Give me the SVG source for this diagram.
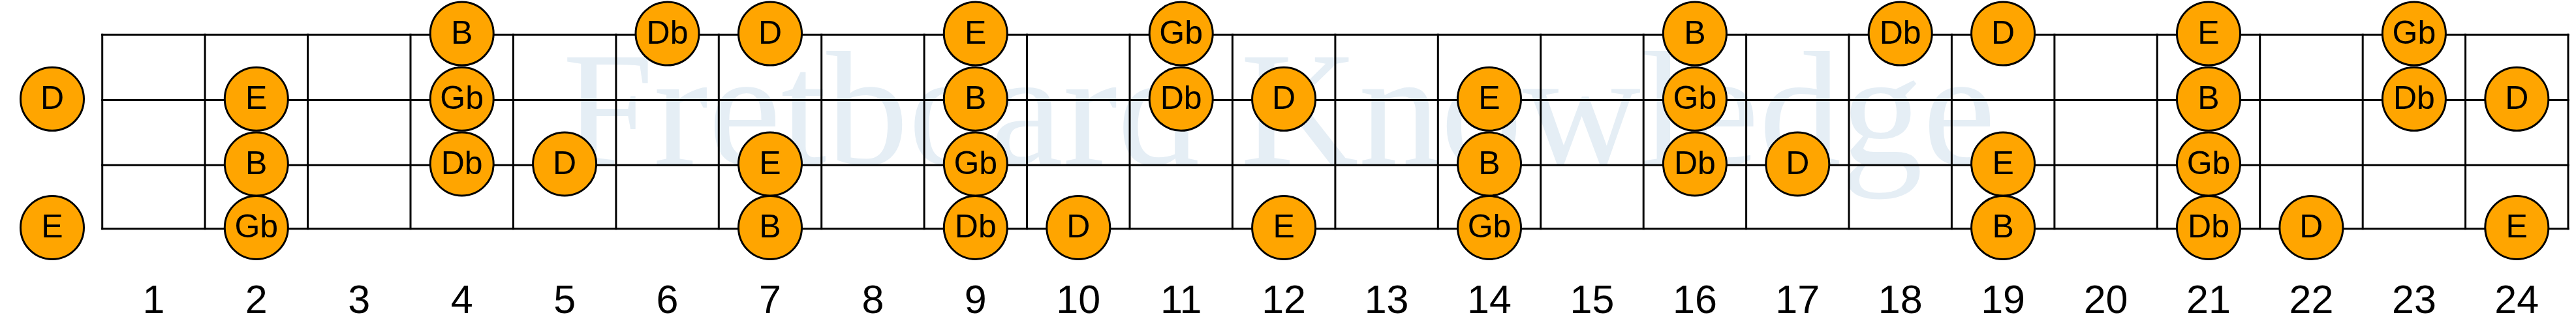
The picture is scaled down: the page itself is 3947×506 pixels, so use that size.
<svg xmlns="http://www.w3.org/2000/svg" width="3947" height="506" viewBox="0 0 3947 506">
<style>
.wm{font-family:"Liberation Serif","Times New Roman",serif;font-size:251px;fill:#E5EEF5}
.grid line{stroke:#000;stroke-width:3;stroke-linecap:square}
.note circle{fill:#FFA500;stroke:#000;stroke-width:3}
.note text{font-family:"Liberation Sans",Arial,sans-serif;font-size:50px;fill:#000;text-anchor:middle}
.fn text{font-family:"Liberation Sans",Arial,sans-serif;font-size:61px;fill:#000;text-anchor:middle}
</style>
<rect width="3947" height="506" fill="#fff"/>
<text class="wm" x="862" y="252">Fretboard Knowledge</text>
<g id="connectors" class="grid">
<line x1="156.7" y1="53.3" x2="3935" y2="53.3"/>
<line x1="156.7" y1="153.5" x2="3935" y2="153.5"/>
<line x1="156.7" y1="253.2" x2="3935" y2="253.2"/>
<line x1="156.7" y1="350.7" x2="3935" y2="350.7"/>
<line x1="156.7" y1="53.3" x2="156.7" y2="350.7"/>
<line x1="314.1" y1="53.3" x2="314.1" y2="350.7"/>
<line x1="471.6" y1="53.3" x2="471.6" y2="350.7"/>
<line x1="629.0" y1="53.3" x2="629.0" y2="350.7"/>
<line x1="786.4" y1="53.3" x2="786.4" y2="350.7"/>
<line x1="943.9" y1="53.3" x2="943.9" y2="350.7"/>
<line x1="1101.3" y1="53.3" x2="1101.3" y2="350.7"/>
<line x1="1258.7" y1="53.3" x2="1258.7" y2="350.7"/>
<line x1="1416.1" y1="53.3" x2="1416.1" y2="350.7"/>
<line x1="1573.6" y1="53.3" x2="1573.6" y2="350.7"/>
<line x1="1731.0" y1="53.3" x2="1731.0" y2="350.7"/>
<line x1="1888.4" y1="53.3" x2="1888.4" y2="350.7"/>
<line x1="2045.9" y1="53.3" x2="2045.9" y2="350.7"/>
<line x1="2203.3" y1="53.3" x2="2203.3" y2="350.7"/>
<line x1="2360.7" y1="53.3" x2="2360.7" y2="350.7"/>
<line x1="2518.2" y1="53.3" x2="2518.2" y2="350.7"/>
<line x1="2675.6" y1="53.3" x2="2675.6" y2="350.7"/>
<line x1="2833.0" y1="53.3" x2="2833.0" y2="350.7"/>
<line x1="2990.4" y1="53.3" x2="2990.4" y2="350.7"/>
<line x1="3147.9" y1="53.3" x2="3147.9" y2="350.7"/>
<line x1="3305.3" y1="53.3" x2="3305.3" y2="350.7"/>
<line x1="3462.7" y1="53.3" x2="3462.7" y2="350.7"/>
<line x1="3620.2" y1="53.3" x2="3620.2" y2="350.7"/>
<line x1="3777.6" y1="53.3" x2="3777.6" y2="350.7"/>
<line x1="3935.0" y1="53.3" x2="3935.0" y2="350.7"/>
</g>
<g id="fret-numbers" class="fn">
<text x="235.4" y="480">1</text>
<text x="392.8" y="480">2</text>
<text x="550.3" y="480">3</text>
<text x="707.7" y="480">4</text>
<text x="865.1" y="480">5</text>
<text x="1022.5" y="480">6</text>
<text x="1180.0" y="480">7</text>
<text x="1337.4" y="480">8</text>
<text x="1494.8" y="480">9</text>
<text x="1652.3" y="480">10</text>
<text x="1809.7" y="480">11</text>
<text x="1967.1" y="480">12</text>
<text x="2124.6" y="480">13</text>
<text x="2282.0" y="480">14</text>
<text x="2439.4" y="480">15</text>
<text x="2596.9" y="480">16</text>
<text x="2754.3" y="480">17</text>
<text x="2911.7" y="480">18</text>
<text x="3069.1" y="480">19</text>
<text x="3226.6" y="480">20</text>
<text x="3384.0" y="480">21</text>
<text x="3541.4" y="480">22</text>
<text x="3698.9" y="480">23</text>
<text x="3856.3" y="480">24</text>
</g>
<!-- row 0 (top string) -->
<g id="g-4" class="note"><circle cx="707.7" cy="51.6" r="48.5"/><text x="707.7" y="66.6">B</text></g>
<g id="g-6" class="note"><circle cx="1022.5" cy="51.6" r="48.5"/><text x="1022.5" y="66.6">Db</text></g>
<g id="g-7" class="note"><circle cx="1180.0" cy="51.6" r="48.5"/><text x="1180.0" y="66.6">D</text></g>
<g id="g-9" class="note"><circle cx="1494.8" cy="51.6" r="48.5"/><text x="1494.8" y="66.6">E</text></g>
<g id="g-11" class="note"><circle cx="1809.7" cy="51.6" r="48.5"/><text x="1809.7" y="66.6">Gb</text></g>
<g id="g-16" class="note"><circle cx="2596.9" cy="51.6" r="48.5"/><text x="2596.9" y="66.6">B</text></g>
<g id="g-18" class="note"><circle cx="2911.7" cy="51.6" r="48.5"/><text x="2911.7" y="66.6">Db</text></g>
<g id="g-19" class="note"><circle cx="3069.1" cy="51.6" r="48.5"/><text x="3069.1" y="66.6">D</text></g>
<g id="g-21" class="note"><circle cx="3384.0" cy="51.6" r="48.5"/><text x="3384.0" y="66.6">E</text></g>
<g id="g-23" class="note"><circle cx="3698.9" cy="51.6" r="48.5"/><text x="3698.9" y="66.6">Gb</text></g>
<!-- row 1 -->
<g id="d-0" class="note"><circle cx="80" cy="151.8" r="48.5"/><text x="80" y="166.8">D</text></g>
<g id="d-2" class="note"><circle cx="392.8" cy="151.8" r="48.5"/><text x="392.8" y="166.8">E</text></g>
<g id="d-4" class="note"><circle cx="707.7" cy="151.8" r="48.5"/><text x="707.7" y="166.8">Gb</text></g>
<g id="d-9" class="note"><circle cx="1494.8" cy="151.8" r="48.5"/><text x="1494.8" y="166.8">B</text></g>
<g id="d-11" class="note"><circle cx="1809.7" cy="151.8" r="48.5"/><text x="1809.7" y="166.8">Db</text></g>
<g id="d-12" class="note"><circle cx="1967.1" cy="151.8" r="48.5"/><text x="1967.1" y="166.8">D</text></g>
<g id="d-14" class="note"><circle cx="2282.0" cy="151.8" r="48.5"/><text x="2282.0" y="166.8">E</text></g>
<g id="d-16" class="note"><circle cx="2596.9" cy="151.8" r="48.5"/><text x="2596.9" y="166.8">Gb</text></g>
<g id="d-21" class="note"><circle cx="3384.0" cy="151.8" r="48.5"/><text x="3384.0" y="166.8">B</text></g>
<g id="d-23" class="note"><circle cx="3698.9" cy="151.8" r="48.5"/><text x="3698.9" y="166.8">Db</text></g>
<g id="d-24" class="note"><circle cx="3856.3" cy="151.8" r="48.5"/><text x="3856.3" y="166.8">D</text></g>
<!-- row 2 -->
<g id="a-2" class="note"><circle cx="392.8" cy="251.5" r="48.5"/><text x="392.8" y="266.5">B</text></g>
<g id="a-4" class="note"><circle cx="707.7" cy="251.5" r="48.5"/><text x="707.7" y="266.5">Db</text></g>
<g id="a-5" class="note"><circle cx="865.1" cy="251.5" r="48.5"/><text x="865.1" y="266.5">D</text></g>
<g id="a-7" class="note"><circle cx="1180.0" cy="251.5" r="48.5"/><text x="1180.0" y="266.5">E</text></g>
<g id="a-9" class="note"><circle cx="1494.8" cy="251.5" r="48.5"/><text x="1494.8" y="266.5">Gb</text></g>
<g id="a-14" class="note"><circle cx="2282.0" cy="251.5" r="48.5"/><text x="2282.0" y="266.5">B</text></g>
<g id="a-16" class="note"><circle cx="2596.9" cy="251.5" r="48.5"/><text x="2596.9" y="266.5">Db</text></g>
<g id="a-17" class="note"><circle cx="2754.3" cy="251.5" r="48.5"/><text x="2754.3" y="266.5">D</text></g>
<g id="a-19" class="note"><circle cx="3069.1" cy="251.5" r="48.5"/><text x="3069.1" y="266.5">E</text></g>
<g id="a-21" class="note"><circle cx="3384.0" cy="251.5" r="48.5"/><text x="3384.0" y="266.5">Gb</text></g>
<!-- row 3 -->
<g id="e-0" class="note"><circle cx="80" cy="349" r="48.5"/><text x="80" y="364">E</text></g>
<g id="e-2" class="note"><circle cx="392.8" cy="349" r="48.5"/><text x="392.8" y="364">Gb</text></g>
<g id="e-7" class="note"><circle cx="1180.0" cy="349" r="48.5"/><text x="1180.0" y="364">B</text></g>
<g id="e-9" class="note"><circle cx="1494.8" cy="349" r="48.5"/><text x="1494.8" y="364">Db</text></g>
<g id="e-10" class="note"><circle cx="1652.3" cy="349" r="48.5"/><text x="1652.3" y="364">D</text></g>
<g id="e-12" class="note"><circle cx="1967.1" cy="349" r="48.5"/><text x="1967.1" y="364">E</text></g>
<g id="e-14" class="note"><circle cx="2282.0" cy="349" r="48.5"/><text x="2282.0" y="364">Gb</text></g>
<g id="e-19" class="note"><circle cx="3069.1" cy="349" r="48.5"/><text x="3069.1" y="364">B</text></g>
<g id="e-21" class="note"><circle cx="3384.0" cy="349" r="48.5"/><text x="3384.0" y="364">Db</text></g>
<g id="e-22" class="note"><circle cx="3541.4" cy="349" r="48.5"/><text x="3541.4" y="364">D</text></g>
<g id="e-24" class="note"><circle cx="3856.3" cy="349" r="48.5"/><text x="3856.3" y="364">E</text></g>
</svg>
